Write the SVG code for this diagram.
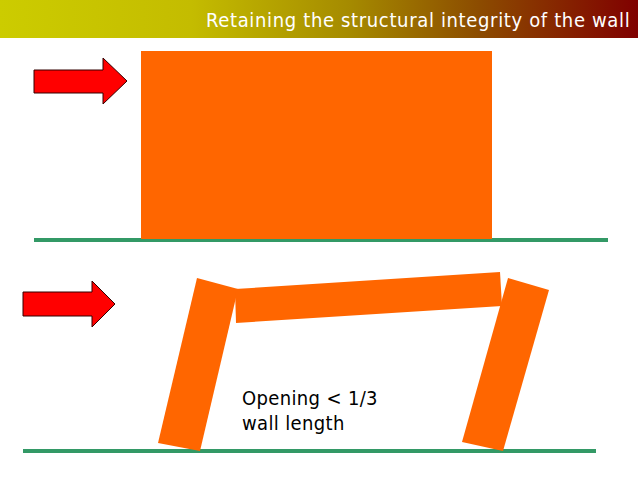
<svg xmlns="http://www.w3.org/2000/svg" width="638" height="478" viewBox="0 0 638 478">
<style>
.wall{fill:#ff6600}
.ground{stroke:#339966;stroke-width:4;fill:none}
.force{fill:#ff0000;stroke:#330000;stroke-width:1}
text{font-family:"DejaVu Sans Condensed","DejaVu Sans","Liberation Sans",sans-serif;font-stretch:condensed}
.title{font-size:20px;letter-spacing:.65px;fill:#ffffff}
.note{font-size:20px;letter-spacing:.35px;fill:#000000}
</style>
<defs>
<linearGradient id="band" x1="0" y1="0" x2="1" y2="0">
<stop offset="0" stop-color="#cccc00"/>
<stop offset="0.3" stop-color="#c4bc00"/>
<stop offset="0.55" stop-color="#a58a00"/>
<stop offset="0.75" stop-color="#8c4c00"/>
<stop offset="1" stop-color="#800000"/>
</linearGradient>
</defs>
<rect width="638" height="478" fill="#ffffff"/>
<g id="header">
<rect width="638" height="38" fill="url(#band)"/>
<text class="title" x="206" y="27">Retaining the structural integrity of the wall</text>
</g>
<g id="connectors">
<line class="ground" x1="34" y1="240" x2="608" y2="240"/>
<line class="ground" x1="23" y1="451" x2="596" y2="451"/>
</g>
<g id="intact-wall"><rect class="wall" x="141" y="51" width="351" height="188"/></g>
<g id="arrow-top"><polygon class="force" points="34,70 103,70 103,58 127,81 103,104 103,93 34,93"/></g>
<g id="arrow-bottom"><polygon class="force" points="23,292 92,292 92,281 115,304 92,327 92,316 23,316"/></g>
<g id="pier-left"><polygon class="wall" points="197,278 238,289 200,451 158,443"/></g>
<g id="lintel"><polygon class="wall" points="235,289 500,272 502,306 236,323"/></g>
<g id="pier-right"><polygon class="wall" points="508,278 549,290 503,451 462,442"/></g>
<g id="note">
<text class="note" x="242" y="405">Opening &lt; 1/3</text>
<text class="note" x="242" y="430">wall length</text>
</g>
</svg>
